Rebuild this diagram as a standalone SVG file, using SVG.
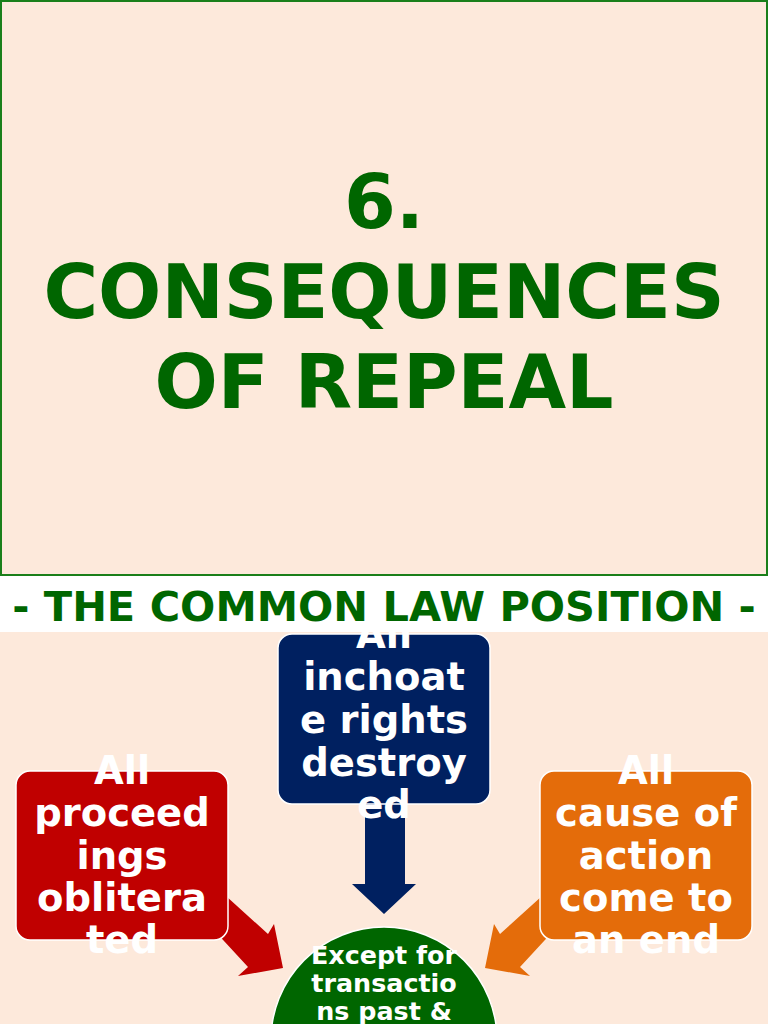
<svg xmlns="http://www.w3.org/2000/svg" width="768" height="1024" viewBox="0 0 768 1024">
<style>
.t{font-family:"DejaVu Sans",sans-serif;font-weight:bold;text-anchor:middle}
.title{fill:#006600;font-size:74.5px}
.ban{fill:#006600;font-size:41.5px}
.box{font-size:38.5px;fill:#fff}
.circ{font-size:25.4px;fill:#fff}
</style>
<defs>
<clipPath id="below"><rect x="0" y="632" width="768" height="392"/></clipPath>
</defs>
<rect x="0" y="0" width="768" height="1024" fill="#FDE9DB"/>
<rect x="1" y="1" width="766" height="574" fill="#FDE9DB" stroke="#1A7F1A" stroke-width="2"/>
<g id="title">
<text class="t title" x="384" y="228">6.</text>
<text class="t title" x="384" y="318">CONSEQUENCES</text>
<text class="t title" x="384" y="408">OF REPEAL</text>
</g>
<g id="connectors">
<polygon points="365,800 405,800 405,884 416,884 384,914 352,884 365,884" fill="#002060"/>
<polygon points="200,915 226,896 268,934 274,924 283,968 238,976 248,967" fill="#C00000"/>
<polygon points="568,915 542,896 500,934 494,924 485,968 530,976 520,967" fill="#E46C0A"/>
</g>
<g id="node-blue">
<rect x="278" y="634" width="212" height="170" rx="14" fill="#002060" stroke="#fff" stroke-width="1.5"/>
<g clip-path="url(#below)">
<text class="t box" x="384" y="648">All</text>
</g>
<text class="t box" x="384" y="690">inchoat</text>
<text class="t box" x="384" y="733">e rights</text>
<text class="t box" x="384" y="776">destroy</text>
<text class="t box" x="384" y="818">ed</text>
</g>
<g id="node-red">
<rect x="16" y="771" width="212" height="169" rx="14" fill="#C00000" stroke="#fff" stroke-width="1.5"/>
<text class="t box" x="122" y="784">All</text>
<text class="t box" x="122" y="826">proceed</text>
<text class="t box" x="122" y="869">ings</text>
<text class="t box" x="122" y="911">oblitera</text>
<text class="t box" x="122" y="953">ted</text>
</g>
<g id="node-orange">
<rect x="540" y="771" width="212" height="169" rx="14" fill="#E46C0A" stroke="#fff" stroke-width="1.5"/>
<text class="t box" x="646" y="784">All</text>
<text class="t box" x="646" y="826">cause of</text>
<text class="t box" x="646" y="869">action</text>
<text class="t box" x="646" y="911">come to</text>
<text class="t box" x="646" y="953">an end</text>
</g>
<g id="node-green">
<circle cx="384" cy="1040" r="113" fill="#006600" stroke="#fff" stroke-width="1.5"/>
<text class="t circ" x="384" y="964">Except for</text>
<text class="t circ" x="384" y="992">transactio</text>
<text class="t circ" x="384" y="1020">ns past &amp;</text>
</g>
<g id="banner">
<rect x="0" y="576" width="768" height="56" fill="#ffffff"/>
<text class="t ban" x="384" y="621">- THE COMMON LAW POSITION -</text>
</g>
</svg>
